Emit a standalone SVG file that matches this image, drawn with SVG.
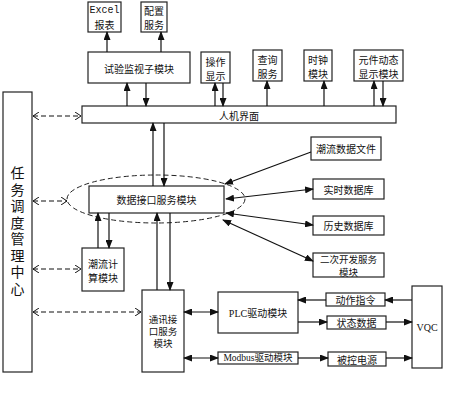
<svg xmlns="http://www.w3.org/2000/svg" width="474" height="402" viewBox="0 0 474 402">
<defs>
<marker id="ah" markerUnits="userSpaceOnUse" markerWidth="9" markerHeight="7" refX="8" refY="3.5" orient="auto-start-reverse"><path d="M0,0 L9,3.5 L0,7 z" fill="#111"/></marker>
<marker id="oh" markerUnits="userSpaceOnUse" markerWidth="7" markerHeight="8" refX="6" refY="4" orient="auto-start-reverse"><path d="M0,0 L6,4 L0,8" fill="none" stroke="#111" stroke-width="1"/></marker>
<style>
rect{fill:#fff;stroke:#222;stroke-width:1.2}
text{font-family:"Noto Sans CJK SC","Liberation Serif",sans-serif;font-size:10px;fill:#111;text-anchor:middle;dominant-baseline:central}
.m{font-family:"Liberation Mono","Noto Sans CJK SC",monospace}
.s{font-family:"Liberation Serif","Noto Sans CJK SC",serif}
.v{font-size:14px;writing-mode:vertical-rl;text-anchor:start;letter-spacing:2.5px}
.sm{font-size:9.5px}
.c line{stroke:#111;stroke-width:1.2;fill:none}
.c .a{marker-end:url(#ah)}
.c .b{marker-start:url(#ah);marker-end:url(#ah)}
.c .d{stroke-dasharray:5,3;marker-start:url(#oh);marker-end:url(#oh)}
</style>
</defs>
<g id="center"><rect x="3" y="92" width="29" height="280"/>
<text class="v" x="17.5" y="166">任务调度管理中心</text></g>
<g id="excel"><rect x="88" y="2" width="33" height="30"/><text x="104.5" y="10"><tspan class="m">Excel</tspan><tspan x="104.5" dy="13.5">报表</tspan></text></g>
<g id="peizhi"><rect x="141" y="2" width="26" height="30"/><text x="154" y="10">配置<tspan x="154" dy="13.5">服务</tspan></text></g>
<g id="shiyan"><rect x="88" y="52" width="102" height="31"/><text x="139" y="68">试验监视子模块</text></g>
<g id="renji"><rect x="82" y="106" width="314" height="17"/><text x="239" y="115">人机界面</text></g>
<g id="caozuo"><rect x="201" y="52" width="29" height="31"/><text x="215.5" y="61.5">操作<tspan x="215.5" dy="13">显示</tspan></text></g>
<g id="chaxun"><rect x="253" y="50" width="29" height="31"/><text x="267.5" y="59.5">查询<tspan x="267.5" dy="13">服务</tspan></text></g>
<g id="shizhong"><rect x="304" y="50" width="28" height="31"/><text x="318" y="59.5">时钟<tspan x="318" dy="13">模块</tspan></text></g>
<g id="yuanjian"><rect x="354" y="50" width="49" height="31"/><text x="378.5" y="59.5">元件动态<tspan x="378.5" dy="13">显示模块</tspan></text></g>
<g id="shuju"><ellipse cx="156" cy="199" rx="89" ry="24" fill="none" stroke="#222" stroke-width="1" stroke-dasharray="5,3"/><rect x="89" y="186" width="135" height="27"/><text x="156.5" y="199.5">数据接口服务模块</text></g>
<g id="chaoliuwenjian"><rect x="311" y="137" width="70" height="23"/><text x="346" y="148.5">潮流数据文件</text></g>
<g id="shishi"><rect x="313" y="179" width="71" height="20"/><text x="348.5" y="189">实时数据库</text></g>
<g id="lishi"><rect x="313" y="216" width="71" height="19"/><text x="348.5" y="225.5">历史数据库</text></g>
<g id="erci"><rect x="313" y="253" width="71" height="24"/><text class="sm" x="348.5" y="259">二次开发服务<tspan x="348.5" dy="12.5">模块</tspan></text></g>
<g id="chaoliujisuan"><rect x="82" y="248" width="42" height="43"/><text x="103" y="263">潮流计<tspan x="103" dy="13.5">算模块</tspan></text></g>
<g id="tongxun"><rect x="142" y="290" width="42" height="82"/><text class="sm" x="163" y="319">通讯接<tspan x="163" dy="12">口服务</tspan><tspan x="163" dy="12">模块</tspan></text></g>
<g id="plc"><rect x="218" y="292" width="80" height="41"/><text class="s" x="258" y="313">PLC驱动模块</text></g>
<g id="modbus"><rect x="218" y="352" width="80" height="12"/><text class="s" x="258" y="358" style="font-size:9.5px">Modbus驱动模块</text></g>
<g id="dongzuo"><rect x="326" y="293" width="59" height="13"/><text x="355.5" y="299.5">动作指令</text></g>
<g id="zhuangtai"><rect x="327" y="316" width="59" height="13"/><text x="356.5" y="322.5">状态数据</text></g>
<g id="beikong"><rect x="328" y="352" width="58" height="14"/><text x="357" y="359">被控电源</text></g>
<g id="vqc"><rect x="412" y="286" width="30" height="82"/><text class="s" x="427" y="327">VQC</text></g>
<g id="connectors" class="c">
<line class="a" x1="107" y1="52" x2="107" y2="32"/>
<line class="a" x1="161" y1="52" x2="161" y2="32"/>
<line class="a" x1="127" y1="106" x2="127" y2="83"/>
<line class="a" x1="146" y1="83" x2="146" y2="106"/>
<line class="a" x1="215" y1="106" x2="215" y2="83"/>
<line class="a" x1="223" y1="83" x2="223" y2="106"/>
<line class="a" x1="267" y1="106" x2="267" y2="81"/>
<line class="a" x1="324" y1="106" x2="324" y2="81"/>
<line class="a" x1="374" y1="106" x2="374" y2="81"/>
<line class="a" x1="383" y1="81" x2="383" y2="106"/>
<line class="a" x1="153" y1="186" x2="153" y2="123"/>
<line class="a" x1="164" y1="123" x2="164" y2="186"/>
<line class="d" x1="33" y1="116" x2="81" y2="116"/>
<line class="d" x1="33" y1="201" x2="67" y2="201"/>
<line class="d" x1="33" y1="269" x2="81" y2="269"/>
<line class="d" x1="33" y1="312" x2="141" y2="312"/>
<line class="a" x1="98" y1="248" x2="98" y2="213"/>
<line class="a" x1="109" y1="213" x2="109" y2="248"/>
<line class="a" x1="157" y1="290" x2="157" y2="213"/>
<line class="a" x1="170" y1="213" x2="170" y2="290"/>
<line class="a" x1="311" y1="152" x2="225" y2="184"/>
<line class="b" x1="226" y1="199" x2="313" y2="189"/>
<line class="b" x1="226" y1="213" x2="313" y2="225"/>
<line class="b" x1="223" y1="220" x2="313" y2="261"/>
<line class="b" x1="184" y1="312" x2="218" y2="312"/>
<line class="b" x1="184" y1="358" x2="218" y2="358"/>
<line class="a" x1="412" y1="300" x2="385" y2="300"/>
<line class="a" x1="326" y1="300" x2="298" y2="300"/>
<line class="a" x1="298" y1="322" x2="327" y2="322"/>
<line class="a" x1="386" y1="322" x2="412" y2="322"/>
<line class="a" x1="298" y1="358" x2="328" y2="358"/>
<line class="a" x1="386" y1="358" x2="412" y2="358"/>
</g>
</svg>
